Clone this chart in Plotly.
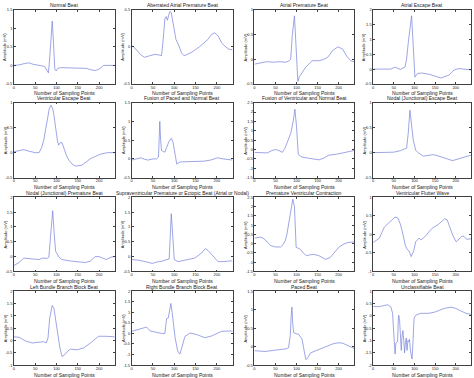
import plotly.graph_objects as go

titles = ["Normal Beat", "Aberrated Atrial Premature Beat", "Atrial Premature Beat", "Atrial Escape Beat",
          "Ventricular Escape Beat", "Fusion of Paced and Normal Beat", "Fusion of Ventricular and Normal Beat",
          "Nodal (Junctional) Escape Beat", "Nodal (Junctional) Premature Beat",
          "Supraventricular Premature or Ectopic Beat (Atrial or Nodal)", "Premature Ventricular Contraction",
          "Ventricular Flutter Wave", "Left Bundle Branch Block Beat", "Right Bundle Branch Block Beat",
          "Paced Beat", "Unclassifiable Beat"]

y_ranges = [[-0.5, 1.5], [-0.5, 0.5], [-0.5, 1], [-0.5, 2],
            [-0.5, 1], [-0.5, 1.5], [-1.5, 2.5], [-0.5, 1],
            [-0.5, 2], [-0.5, 2], [-1.5, 2.5], [-1, 1],
            [-1, 2], [-1.5, 2], [-0.5, 1.5], [-2, 1]]

x_ticks = [0, 50, 100, 150, 200]
x_range = [0, 237]

normal_x = [0, 10, 25, 35, 45, 55, 65, 72, 78, 81, 84, 88, 90, 93, 96, 99, 103, 110, 130, 150, 170, 182, 191, 200, 211, 225, 237]
normal_y = [0, 0.01, 0.05, 0.07, 0.03, 0, -0.01, -0.03, -0.15, -0.2, 0.2, 1.1, 1.2, 0.6, -0.1, -0.15, -0.08, -0.06, -0.07, -0.06, -0.08, -0.12, -0.14, -0.1, 0.0, 0.0, 0.0]

aberrated_x = [0, 10, 20, 30, 42, 55, 65, 70, 74, 78, 81, 84, 87, 90, 93, 98, 104, 110, 117, 123, 139, 159, 179, 188, 195, 203, 212, 219, 228, 237]
aberrated_y = [0.02, -0.03, -0.1, -0.14, -0.12, -0.1, -0.11, -0.12, 0.1, 0.38, 0.41, 0.36, 0.43, 0.48, 0.46, 0.3, 0.1, 0.03, -0.08, -0.12, -0.08, 0.0, 0.1, 0.17, 0.19, 0.15, 0.05, 0.01, -0.03, -0.04]

atrial_prem_x = [0, 15, 28, 45, 60, 75, 83, 86, 90, 95, 99, 103, 107, 111, 122, 137, 154, 165, 174, 186, 198, 209, 220, 229, 237]
atrial_prem_y = [-0.1, -0.08, -0.05, -0.06, -0.05, -0.06, -0.03, 0.0, 0.5, 0.88, 0.2, -0.45, -0.35, -0.3, -0.16, -0.03, -0.03, 0.0, 0.04, 0.18, 0.25, 0.21, 0.05, -0.03, -0.05]

atrial_esc_x = [0, 20, 42, 50, 54, 60, 66, 77, 81, 85, 90, 93, 97, 101, 107, 117, 137, 164, 184, 196, 208, 220, 237]
atrial_esc_y = [0, 0, 0, 0.05, 0.06, 0.02, -0.01, 0.07, 0.35, 0.9, 1.6, 1.8, 0.8, -0.27, -0.15, -0.13, -0.18, -0.3, -0.2, -0.03, 0.02, 0.0, -0.03]

vent_esc_x = [0, 12, 23, 35, 50, 59, 65, 70, 78, 83, 87, 91, 94, 98, 102, 105, 109, 113, 117, 123, 129, 137, 145, 160, 180, 203, 220, 237]
vent_esc_y = [0.02, 0.04, 0.06, 0.03, 0.0, 0.0, 0.1, 0.25, 0.65, 0.88, 0.95, 0.88, 0.75, 0.45, 0.25, 0.15, 0.2, 0.2, 0.09, -0.05, -0.15, -0.23, -0.27, -0.25, -0.12, -0.03, 0.0, 0.0]

fus_paced_x = [0, 10, 22, 30, 38, 50, 58, 63, 65, 66, 68, 70, 74, 78, 82, 87, 93, 97, 100, 103, 106, 114, 130, 154, 170, 186, 202, 215, 237]
fus_paced_y = [-0.03, 0.0, 0.03, -0.01, -0.03, 0.0, 0.0, 0.05, 0.6, 1.0, 0.5, 0.23, 0.2, 0.18, 0.3, 0.45, 0.55, 0.45, 0.25, 0.0, -0.14, -0.08, -0.08, -0.08, -0.06, -0.03, 0.03, 0.0, -0.03]

fus_vent_x = [0, 15, 30, 42, 50, 58, 66, 72, 80, 86, 92, 96, 100, 104, 109, 113, 125, 145, 153, 165, 177, 195, 208, 222, 237]
fus_vent_y = [-0.15, -0.15, -0.18, -0.05, 0.0, -0.05, -0.15, 0.05, 0.5, 0.85, 1.5, 2.15, 1.2, -0.25, -0.35, -0.4, -0.45, -0.5, -0.55, -0.45, -0.3, -0.25, -0.2, -0.12, -0.05]

nodal_esc_x = [0, 20, 34, 50, 66, 78, 81, 85, 89, 93, 97, 103, 109, 121, 133, 145, 155, 164, 178, 192, 210, 237]
nodal_esc_y = [0.0, 0.0, 0.0, 0.01, 0.04, 0.07, 0.09, 0.4, 0.85, 0.55, 0.25, 0.05, 0.0, -0.07, -0.05, -0.04, -0.06, -0.08, -0.12, -0.16, -0.12, -0.05]

nodal_prem_x = [0, 12, 23, 35, 47, 59, 67, 78, 82, 86, 91, 95, 98, 106, 113, 133, 150, 168, 180, 191, 200, 207, 217, 228, 237]
nodal_prem_y = [-0.3, -0.2, -0.05, -0.06, -0.07, -0.1, -0.05, -0.06, -0.02, 0.6, 1.55, 0.7, 0.18, -0.02, -0.1, -0.15, -0.18, -0.2, -0.15, 0.0, 0.0, -0.05, -0.1, -0.02, 0.0]

supra_x = [0, 15, 32, 48, 60, 70, 82, 88, 90, 93, 96, 100, 109, 125, 148, 158, 164, 173, 180, 188, 196, 203, 215, 225, 237]
supra_y = [-0.1, -0.12, -0.17, -0.23, -0.18, -0.16, -0.1, -0.08, 0.5, 1.45, 0.8, -0.1, -0.17, -0.13, -0.05, 0.05, 0.12, 0.27, 0.2, 0.07, -0.08, -0.17, -0.17, -0.15, -0.14]

pvc_x = [0, 14, 20, 26, 32, 38, 50, 62, 68, 73, 77, 81, 86, 91, 95, 99, 104, 109, 116, 123, 133, 141, 153, 162, 169, 180, 190, 200, 210, 220, 237]
pvc_y = [0.3, 0.35, 0.3, 0.2, 0.05, -0.1, -0.18, -0.18, -0.05, 0.15, 0.5, 1.0, 1.7, 2.4, 2.0, -0.2, -0.25, -0.3, -0.5, -0.65, -0.6, -0.58, -0.65, -0.78, -0.85, -0.75, -0.45, -0.2, -0.05, 0.05, 0.1]

flutter_x = [0, 8, 15, 27, 39, 53, 60, 65, 70, 75, 78, 82, 87, 92, 98, 103, 106, 111, 116, 122, 129, 137, 145, 158, 166, 173, 179, 186, 193, 201, 209, 215, 220, 226, 237]
flutter_y = [-0.22, -0.15, -0.1, 0.2, 0.33, 0.47, 0.44, 0.3, 0.1, -0.15, -0.3, -0.4, -0.45, -0.6, -0.45, -0.2, -0.15, -0.1, -0.15, -0.1, -0.02, 0.1, 0.18, 0.27, 0.35, 0.42, 0.4, 0.2, -0.03, -0.2, -0.12, -0.05, -0.05, -0.13, -0.12]

lbbb_x = [0, 12, 20, 27, 43, 62, 70, 76, 80, 84, 88, 90, 94, 98, 102, 108, 113, 117, 121, 127, 133, 148, 164, 180, 190, 199, 215, 237]
lbbb_y = [0.15, 0.13, 0.05, -0.02, -0.1, -0.07, -0.05, -0.1, 0.1, 0.9, 1.35, 1.42, 1.3, 0.85, 0.5, -0.3, -0.65, -0.6, -0.55, -0.42, -0.35, -0.38, -0.3, -0.1, 0.05, 0.17, 0.17, 0.15]

rbbb_x = [0, 12, 23, 35, 43, 59, 70, 78, 80, 82, 86, 89, 92, 95, 99, 102, 108, 113, 116, 119, 125, 137, 152, 172, 188, 211, 225, 237]
rbbb_y = [0.1, 0.18, 0.25, 0.3, 0.12, 0.03, 0.0, 0.0, 0.3, 0.7, 0.73, 1.1, 1.42, 1.0, 0.3, -0.2, -0.82, -0.98, -0.8, -0.55, -0.15, 0.02, -0.05, -0.2, -0.12, 0.1, 0.12, 0.12]

paced_x = [0, 13, 26, 45, 66, 75, 81, 85, 87, 89, 91, 93, 99, 105, 110, 113, 117, 122, 127, 133, 148, 168, 185, 196, 208, 218, 227, 237]
paced_y = [-0.11, -0.12, -0.13, -0.1, -0.08, -0.06, -0.03, 0.3, 0.8, 1.07, 0.6, 0.38, 0.35, 0.33, 0.25, 0.2, -0.05, -0.35, -0.3, -0.17, -0.1, 0.0, 0.07, 0.1, 0.1, 0.05, 0.0, -0.05]

unclass_x = [0, 12, 23, 35, 43, 47, 49, 51, 53, 55, 57, 59, 61, 62, 64, 66, 68, 70, 72, 74, 76, 78, 80, 82, 84, 86, 88, 90, 92, 94, 96, 99, 103, 114, 134, 149, 160, 172, 189, 200, 212, 225, 237]
unclass_y = [0.38, 0.37, 0.4, 0.45, 0.35, 0.1, -0.5, -1.3, -1.55, -1.1, -1.05, -1.05, -0.1, 0.02, -0.2, -0.9, -1.4, -0.8, -0.6, -1.0, -1.5, -1.1, -0.9, -1.4, -1.0, -1.05, -0.95, -1.4, -1.6, -1.75, -1.2, -0.1, 0.02, 0.1, 0.1, 0.15, 0.22, 0.3, 0.35, 0.3, 0.2, 0.1, 0.06]

series = [(normal_x, normal_y), (aberrated_x, aberrated_y), (atrial_prem_x, atrial_prem_y), (atrial_esc_x, atrial_esc_y),
          (vent_esc_x, vent_esc_y), (fus_paced_x, fus_paced_y), (fus_vent_x, fus_vent_y), (nodal_esc_x, nodal_esc_y),
          (nodal_prem_x, nodal_prem_y), (supra_x, supra_y), (pvc_x, pvc_y), (flutter_x, flutter_y),
          (lbbb_x, lbbb_y), (rbbb_x, rbbb_y), (paced_x, paced_y), (unclass_x, unclass_y)]

W, H = 474, 378
col_px = [(13, 114), (131, 232), (254, 354), (373, 471)]
row_px = [(7, 82), (101, 177), (197, 272), (292, 367)]

FONT = "Liberation Sans, Arial, sans-serif"
LINE = "#7480da"
AX = "#404040"

fig = go.Figure()
annotations = []
for i, (xs, ys) in enumerate(series):
    r, c = divmod(i, 4)
    n = i + 1
    xa = "x" if n == 1 else f"x{n}"
    ya = "y" if n == 1 else f"y{n}"
    fig.add_trace(go.Scatter(x=xs, y=ys, mode="lines", line=dict(color=LINE, width=0.7),
                             xaxis=xa, yaxis=ya, showlegend=False, hoverinfo="skip"))
    x0, x1 = col_px[c]
    t, b = row_px[r]
    xdom = [x0 / W, x1 / W]
    ydom = [1 - b / H, 1 - t / H]
    lo, hi = y_ranges[i]
    ytv = []
    v = lo
    while v <= hi + 1e-9:
        ytv.append(round(v, 2))
        v += 0.5
    common = dict(showline=True, linecolor=AX, linewidth=0.6, mirror="ticks", ticks="inside",
                  ticklen=2, tickwidth=0.5, tickcolor=AX, showgrid=False, zeroline=False,
                  tickfont=dict(size=4, family=FONT, color="#222"))
    fig.update_layout(**{
        ("xaxis" if n == 1 else f"xaxis{n}"): dict(domain=xdom, range=x_range, tickvals=x_ticks,
                                                   anchor=ya, ticklabelstandoff=-1, **common),
        ("yaxis" if n == 1 else f"yaxis{n}"): dict(domain=ydom, range=[lo, hi], tickvals=ytv,
                                                   ticktext=[f"{v:g}" for v in ytv], anchor=xa, **common),
    })
    cx = (x0 + x1) / 2 / W
    annotations.append(dict(text=titles[i], x=cx, y=1 - (t - 0.5) / H, xref="paper", yref="paper",
                            xanchor="center", yanchor="bottom", showarrow=False, borderpad=0,
                            font=dict(size=5, family=FONT, color="#222")))
    annotations.append(dict(text="Number of Sampling Points", x=cx, y=1 - (b + 5.5) / H, xref="paper",
                            yref="paper", xanchor="center", yanchor="top", showarrow=False, borderpad=0,
                            font=dict(size=5, family=FONT, color="#222")))
    annotations.append(dict(text="Amplitude (mV)", x=(x0 - 9) / W, y=1 - (t + b) / 2 / H, xref="paper",
                            yref="paper", xanchor="center", yanchor="middle", showarrow=False, textangle=-90,
                            borderpad=0, font=dict(size=4, family=FONT, color="#222")))

fig.update_layout(width=W, height=H, margin=dict(l=0, r=0, t=0, b=0), paper_bgcolor="white",
                  plot_bgcolor="white", annotations=annotations)
fig.write_html("out.html", config={"displayModeBar": False},
               post_script="document.body.style.margin='0';document.body.style.overflow='hidden';")
